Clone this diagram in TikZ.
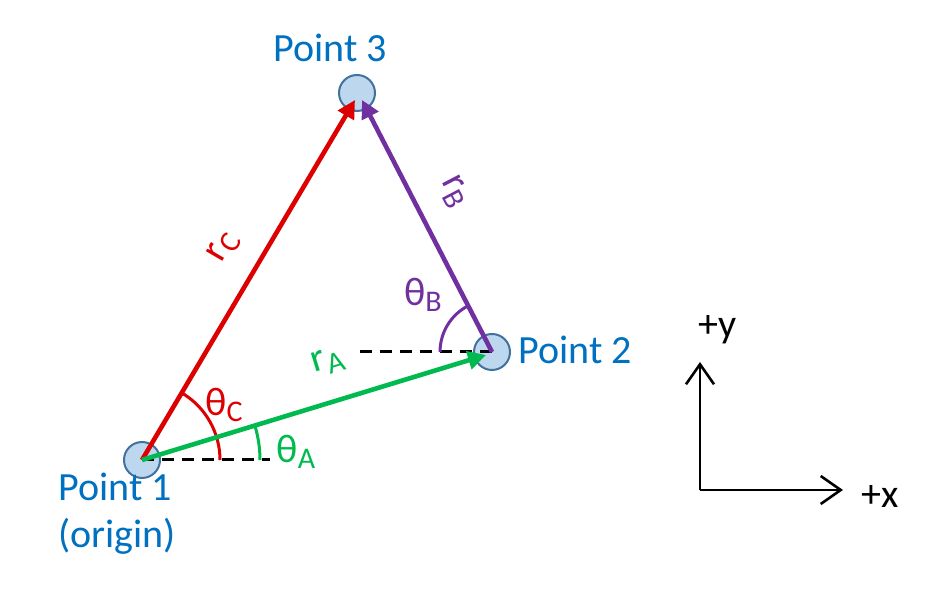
\documentclass[tikz,border=0pt]{standalone}
\usepackage{fontspec}
\setmainfont{Carlito}
\usetikzlibrary{arrows.meta}
\definecolor{ptblue}{RGB}{0,112,192}
\definecolor{ptfill}{RGB}{189,215,238}
\definecolor{ptedge}{RGB}{65,113,156}
\definecolor{vred}{RGB}{220,0,0}
\definecolor{vgreen}{RGB}{0,186,80}
\definecolor{vpurple}{RGB}{112,48,160}
\newcommand{\lowsub}[1]{\raisebox{-0.35ex}{\fontsize{15}{18}\selectfont #1}}
\begin{document}
\begin{tikzpicture}[x=0.5pt, y=0.5pt, font=\fontsize{20}{24}\selectfont, line join=round,
  pt/.style={circle, draw=ptedge, fill=ptfill, line width=1pt, minimum size=18pt, inner sep=0pt},
  lbl/.style={text=ptblue, inner sep=1pt},
  vec/.style={line width=2.3pt, -{Triangle[length=9pt,width=9pt]}},
  ref/.style={line width=1.5pt, dash pattern=on 6pt off 4pt},
  axis/.style={line width=1.3pt, -{Straight Barb[length=10pt,width=14pt,line width=1.3pt]}},
  sub/.style={inner sep=0pt}]
\useasboundingbox (0,0) rectangle (927,604);
\def \angA{17.1};
\def \angC{59.6};
\def \angB{117.5};
% points
\node[pt] (p1) at (142,144) {};
\node[pt] (p2) at (492,252) {};
\node[pt] (p3) at (357,511) {};
\node[lbl] (t3) at (330,556) {Point 3};
\node[lbl, anchor=west] (t2) at (516,254) {Point 2};
\node[lbl] (t1) at (115,117) {Point 1};
\node[lbl] (o1) at (117,68) {(origin)};
% horizontal references
\draw[ref] (p1.center) -- ++(128,0);
\draw[ref] (p2.center) -- ++(-134,0);
% angles
\draw[vred, line width=1.5pt] ([shift={(0:78)}]p1.center) arc[start angle=0, end angle=\angC, radius=78];
\draw[vgreen, line width=1.5pt] ([shift={(0:118)}]p1.center) arc[start angle=0, end angle=\angA, radius=118];
\draw[vpurple, line width=1.5pt] ([shift={(180:52)}]p2.center) arc[start angle=180, end angle=\angB, radius=52];
% vectors
\draw[vec, vred] (p1.center) -- ([shift={(-2,-7)}]p3.center);
\draw[vec, vpurple] (p2.center) -- ([shift={(5,-7)}]p3.center);
\draw[vec, vgreen] (p1.center) -- ([shift={(-6,-3)}]p2.center);
\node[sub, text=vred, rotate=\angC] (rc) at (224,357) {r\lowsub{C}};
\node[sub, text=vpurple, rotate=-62.5] (rb) at (454,412) {r\lowsub{B}};
\node[sub, text=vgreen, rotate=\angA] (ra) at (328,242) {r\lowsub{A}};
\node[text=vred] (qc) at (224,199) {θ\lowsub{C}};
\node[text=vgreen] (qa) at (296,152) {θ\lowsub{A}};
\node[text=vpurple] (qb) at (423,309) {θ\lowsub{B}};
% axes
\coordinate (ax) at (700,114);
\coordinate (ay) at (700,242);
\coordinate (axx) at (843,114);
\draw[axis] (ax) -- (ay);
\draw[axis] (ax) -- (axx);
\node (ty) at (718,274) {+y};
\node (tx) at (880,107) {+x};
\end{tikzpicture}
\end{document}
